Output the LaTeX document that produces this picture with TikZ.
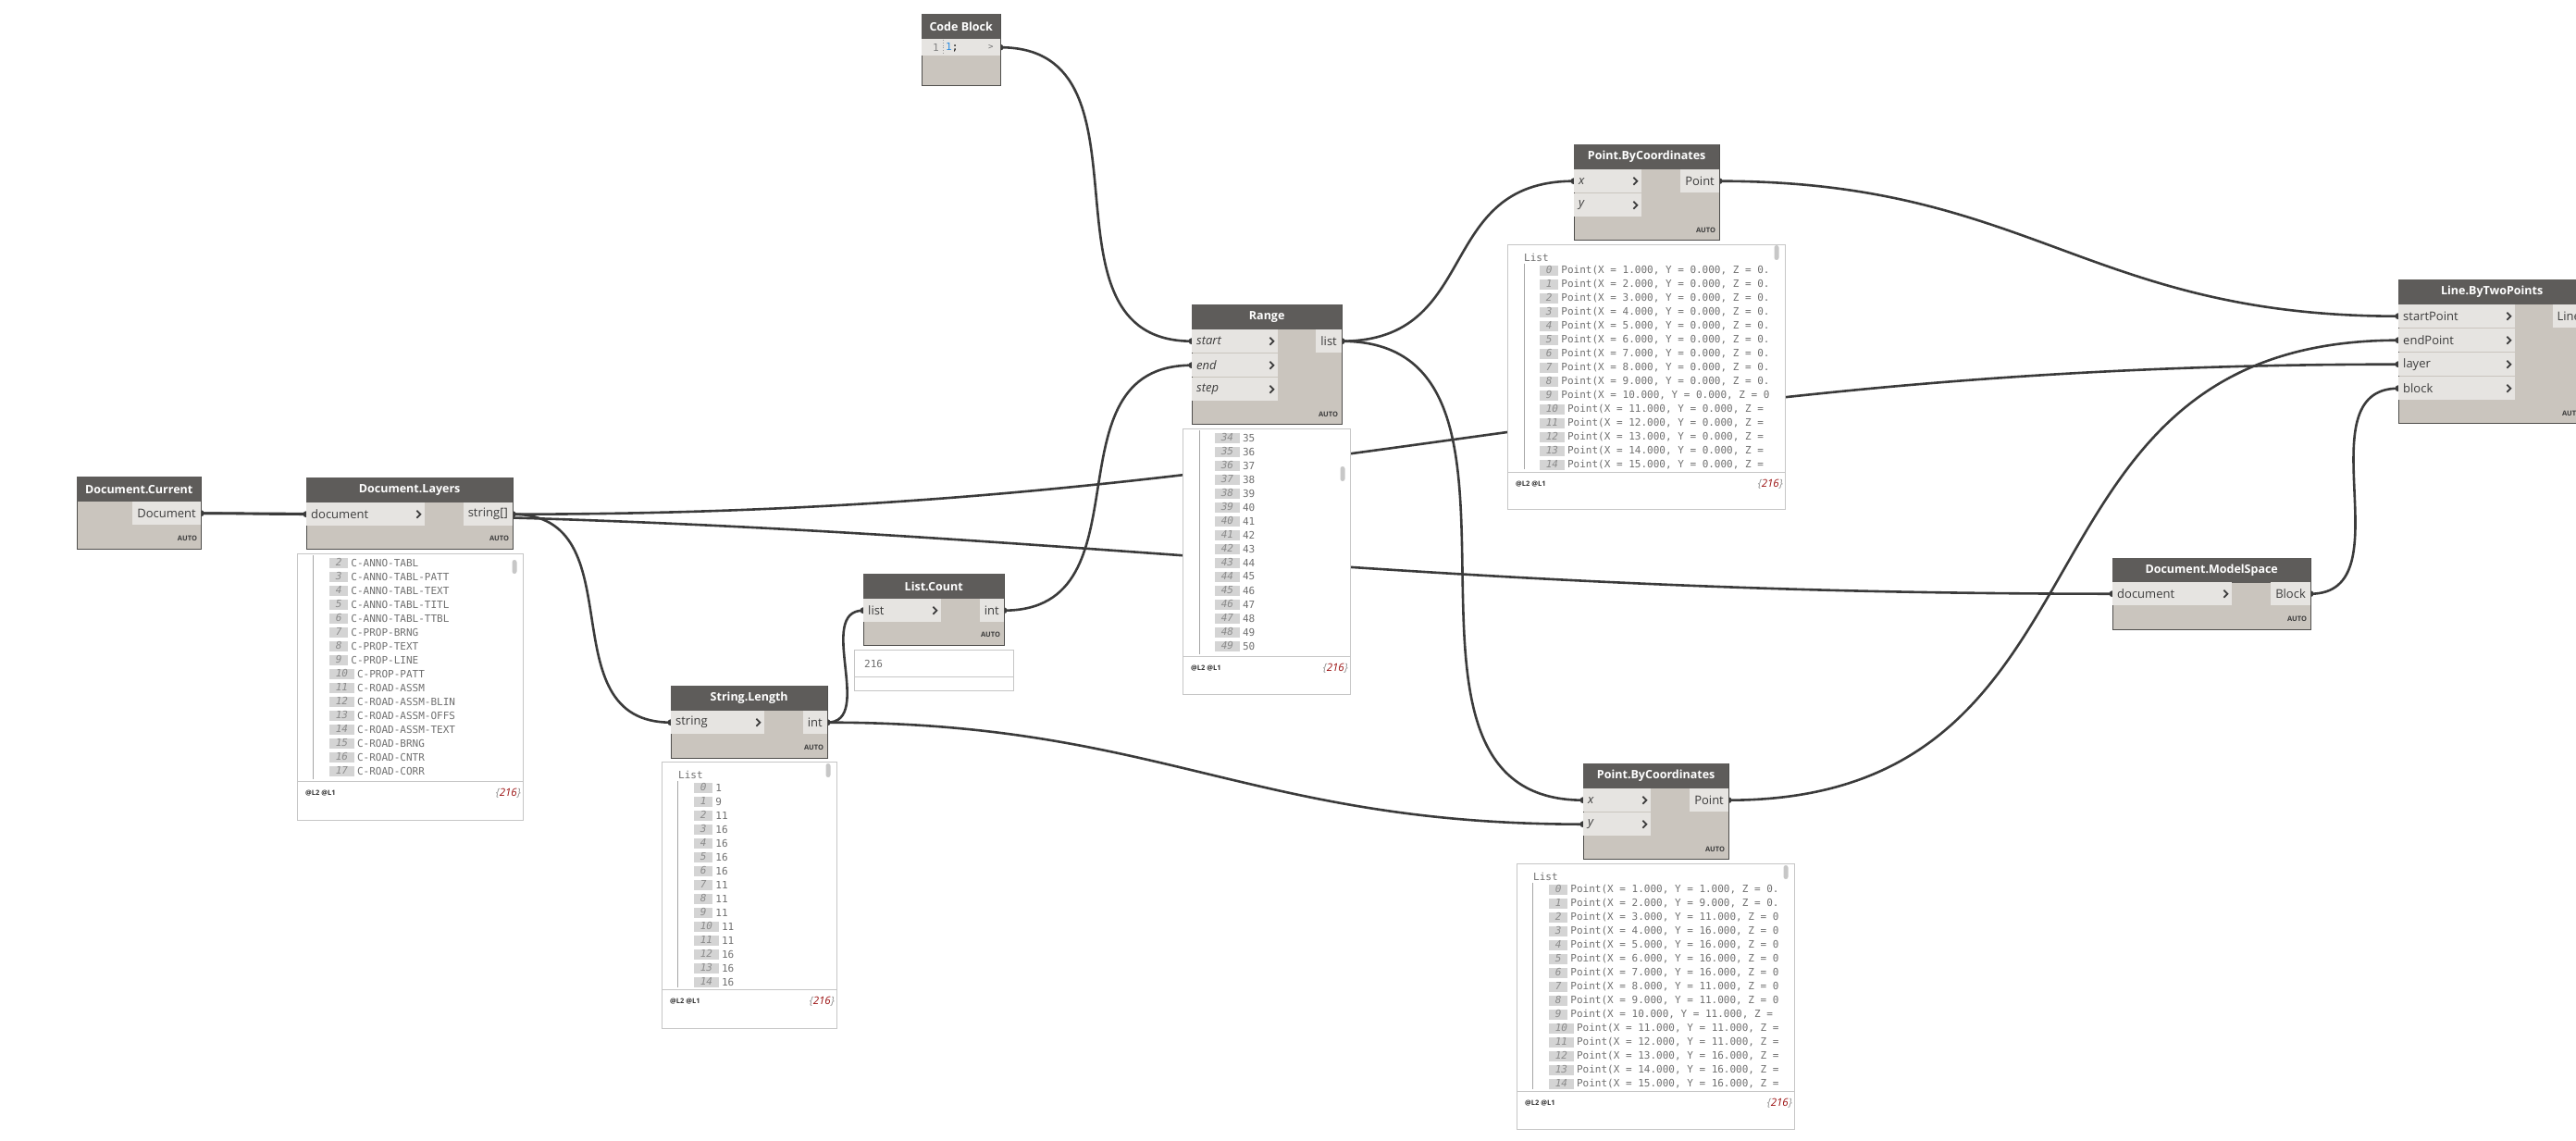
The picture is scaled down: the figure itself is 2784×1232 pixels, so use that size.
\documentclass[tikz,border=0pt]{standalone}
\usepackage{fontspec}
\setmainfont{Open Sans}
\newfontfamily\dynmono{DejaVu Sans Mono}
\usetikzlibrary{backgrounds,calc}

\definecolor{headcol}{HTML}{5E5C5A}
\definecolor{bodycol}{HTML}{CAC5BE}
\definecolor{portcol}{HTML}{E6E4E1}
\definecolor{edgecol}{HTML}{4F4E4C}
\definecolor{wirecol}{HTML}{3B3B3B}
\definecolor{labcol}{HTML}{3C3C3C}
\definecolor{pvedge}{HTML}{C6C6C6}
\definecolor{idxcol}{HTML}{D4D4D4}
\definecolor{valcol}{HTML}{707070}
\definecolor{cntred}{HTML}{9B1010}
\definecolor{codeblue}{HTML}{2A8BE0}

\tikzset{
  nbody/.style={draw=edgecol, line width=1.2pt, fill=bodycol, anchor=north west, inner sep=0pt},
  nhead/.style={fill=headcol, text=white, anchor=north west, inner sep=0pt, minimum height=27pt,
    font=\fontsize{12.5}{14}\selectfont\bfseries},
  iport/.style={fill=portcol, anchor=north west, inner sep=0pt, minimum height=25pt},
  oport/.style={fill=portcol, anchor=north east, inner xsep=5pt, inner ysep=0pt, minimum height=25pt,
    text=labcol, font=\fontsize{13}{15}\selectfont},
  plabel/.style={anchor=west, inner xsep=5pt, inner ysep=0pt, text=labcol, font=\fontsize{13}{15}\selectfont},
  chev/.style={draw=labcol, line width=1.8pt},
  autotag/.style={anchor=east, inner sep=0pt, text=labcol, font=\fontsize{7.5}{8}\selectfont\bfseries},
  wire/.style={draw=wirecol, line width=2.6pt},
  preview/.style={draw=pvedge, line width=1pt, fill=white, anchor=north west, inner sep=0pt},
  tree/.style={draw=black!35, line width=0.8pt},
  idx/.style={anchor=west, fill=idxcol, inner xsep=6.6pt, inner ysep=0pt, minimum height=11pt,
    text height=7.5pt, text depth=1.5pt, text=black!45, font=\dynmono\itshape\fontsize{11}{11}\selectfont},
  val/.style={anchor=west, inner xsep=3pt, inner ysep=0pt, text=valcol, font=\dynmono\fontsize{11}{11}\selectfont},
  lvl/.style={anchor=west, inner sep=0pt, text=black!80, font=\fontsize{7.5}{8}\selectfont\bfseries},
  cnt/.style={anchor=east, inner sep=0pt, text=black!45, font=\fontsize{11.5}{12}\selectfont\itshape},
  scroll/.style={fill=black!22, rounded corners=2.5pt},
}

% input port: name, x, y, width, label
\newcommand{\dinport}[5]{%
  \node[iport, minimum width=#4] (#1) at (#2,#3) {};
  \node[plabel] at (#1.west) {#5};
  \draw[chev] ([xshift=-9pt,yshift=4pt]#1.east) -- ++(4pt,-4pt) -- ++(-4pt,-4pt);}

% connector between an output and an input port
\newcommand{\wire}[2]{%
  \draw[wire] let \p1=(#1.east), \p2=(#2.west), \n1={0.4*abs(\x2-\x1)+0.3*abs(\y2-\y1)} in
    (\p1) .. controls +(\n1,0pt) and +(-\n1,0pt) .. (\p2);
  \fill[wirecol] (#1.east) circle (3.5pt) (#2.west) circle (3.5pt);}

% footer of a preview: left, right, divider
\newcommand{\pvfoot}[3]{%
  \draw[draw=pvedge, line width=1pt] (#1,#3) -- (#2,#3);
  \node[lvl] at (#1+9,#3+13) {@L2 @L1};
  \node[cnt] at (#2-2,#3+13) {\{\textcolor{cntred}{216}\}};}

\begin{document}
\begin{tikzpicture}[x=1pt, y=-1pt]
  \useasboundingbox (0,0) rectangle (2784,1232);

  % Document.Current
  \node[nbody, minimum width=134, minimum height=78] (cur) at (83,515) {};
  \node[nhead, minimum width=134] (cur-t) at (83,515) {Document.Current};
  \node[oport] (cur-doc) at (217,542) {Document};
  \node[autotag] at ([xshift=-5pt,yshift=12pt]cur.south east) {AUTO};

  % Document.Layers
  \node[nbody, minimum width=223, minimum height=77] (lay) at (331,516) {};
  \node[nhead, minimum width=223] (lay-t) at (331,516) {Document.Layers};
  \dinport{lay-doc}{331}{543}{128}{document}
  \node[oport] (lay-str) at (554,543) {string[]};
  \node[autotag] at ([xshift=-5pt,yshift=12pt]lay.south east) {AUTO};

  \node[preview, minimum width=244, minimum height=288] (lay-pv) at (321,598) {};
  \draw[tree] (338,600) -- (338,842);
  \foreach \i/\v [count=\k from 0] in {2/C-ANNO-TABL, 3/C-ANNO-TABL-PATT, 4/C-ANNO-TABL-TEXT,
      5/C-ANNO-TABL-TITL, 6/C-ANNO-TABL-TTBL, 7/C-PROP-BRNG, 8/C-PROP-TEXT, 9/C-PROP-LINE,
      10/C-PROP-PATT, 11/C-ROAD-ASSM, 12/C-ROAD-ASSM-BLIN, 13/C-ROAD-ASSM-OFFS,
      14/C-ROAD-ASSM-TEXT, 15/C-ROAD-BRNG, 16/C-ROAD-CNTR, 17/C-ROAD-CORR} {
    \node[idx] (lay-i) at (356,608+15*\k) {\i};
    \node[val] at (lay-i.east) {\v};
  }
  \fill[scroll] (553.5,605) rectangle (558.5,620);
  \pvfoot{321}{565}{844}

  % String.Length
  \node[nbody, minimum width=169, minimum height=78] (sl) at (725,741) {};
  \node[nhead, minimum width=169] (sl-t) at (725,741) {String.Length};
  \dinport{sl-str}{725}{768}{101}{string}
  \node[oport] (sl-int) at (894,768) {int};
  \node[autotag] at ([xshift=-5pt,yshift=12pt]sl.south east) {AUTO};

  \node[preview, minimum width=189, minimum height=288] (sl-pv) at (715,823) {};
  \node[val, inner xsep=0pt] (sl-list) at (733,837) {List};
  \draw[tree] (732,844) -- (732,1067);
  \foreach \v [count=\k from 0] in {1,9,11,16,16,16,16,11,11,11,11,11,16,16,16} {
    \node[idx] (sl-i) at (750,851+15*\k) {\k};
    \node[val] at (sl-i.east) {\v};
  }
  \fill[scroll] (892.5,825) rectangle (897.5,840);
  \pvfoot{715}{904}{1069}

  % List.Count
  \node[nbody, minimum width=152, minimum height=77] (lc) at (933,620) {};
  \node[nhead, minimum width=152] (lc-t) at (933,620) {List.Count};
  \dinport{lc-list}{933}{647}{84}{list}
  \node[oport] (lc-int) at (1085,647) {int};
  \node[autotag] at ([xshift=-5pt,yshift=12pt]lc.south east) {AUTO};

  \node[preview, minimum width=172, minimum height=44] (lc-pv) at (923,702) {};
  \node[val, inner xsep=0pt] (lc-val) at (934,717) {216};
  \draw[draw=pvedge, line width=1pt] (923,731) -- (1095,731);

  % Code Block
  \node[nbody, minimum width=85, minimum height=77] (cb) at (996,15) {};
  \node[nhead, minimum width=85] (cb-t) at (996,15) {Code Block};
  \node[iport, minimum width=65, minimum height=18] (cb-code) at (996,42) {};
  \node[oport, minimum width=20, minimum height=18, inner xsep=0pt, text=black!55,
    font=\dynmono\fontsize{9}{9}\selectfont] (cb-out) at (1081,42) {>};
  \node[val, inner xsep=0pt, text=black!50] (cb-ln) at (1008,51) {1};
  \draw[black!40, dotted, line width=0.8pt] (1019,43) -- (1019,59);
  \node[val, inner xsep=0pt, text=black] (cb-src) at (1022,51) {\textcolor{codeblue}{1};};

  % Range
  \node[nbody, minimum width=162, minimum height=129] (rg) at (1288,329) {};
  \node[nhead, minimum width=162] (rg-t) at (1288,329) {Range};
  \dinport{rg-start}{1288}{356}{93}{\itshape start}
  \dinport{rg-end}{1288}{382}{93}{\itshape end}
  \dinport{rg-step}{1288}{408}{93}{\itshape step}
  \node[oport] (rg-list) at (1450,356) {list};
  \node[autotag] at ([xshift=-5pt,yshift=11pt]rg.south east) {AUTO};

  \node[preview, minimum width=181, minimum height=287] (rg-pv) at (1278,463) {};
  \draw[tree] (1296,465) -- (1296,707);
  \foreach \i [count=\k from 0] in {34,...,49} {
    \pgfmathtruncatemacro{\vv}{\i+1}
    \node[idx] (rg-i) at (1313,473+15*\k) {\i};
    \node[val] at (rg-i.east) {\vv};
  }
  \fill[scroll] (1448.5,504) rectangle (1453.5,520);
  \pvfoot{1278}{1459}{709}

  % Point.ByCoordinates (top)
  \node[nbody, minimum width=157, minimum height=103] (pt) at (1701,156) {};
  \node[nhead, minimum width=157] (pt-t) at (1701,156) {Point.ByCoordinates};
  \dinport{pt-x}{1701}{183}{73}{\itshape x}
  \dinport{pt-y}{1701}{209}{73}{\itshape y}
  \node[oport] (pt-pt) at (1858,183) {Point};
  \node[autotag] at ([xshift=-5pt,yshift=11pt]pt.south east) {AUTO};

  \node[preview, minimum width=300, minimum height=286] (pt-pv) at (1629,264) {};
  \node[val, inner xsep=0pt] (pt-list) at (1647,278) {List};
  \draw[tree] (1647,285) -- (1647,507);
  \begin{scope}
    \clip (1629,264) rectangle (1912,510);
    \foreach \k in {0,...,14} {
      \pgfmathtruncatemacro{\xv}{\k+1}
      \node[idx] (pt-i) at (1664,292+15*\k) {\k};
      \node[val] at (pt-i.east) {Point(X = \xv.000, Y = 0.000, Z = 0.000)};
    }
  \end{scope}
  \fill[scroll] (1917.5,265) rectangle (1922.5,281);
  \pvfoot{1629}{1929}{510}

  % Point.ByCoordinates (bottom)
  \node[nbody, minimum width=157, minimum height=103] (pb) at (1711,825) {};
  \node[nhead, minimum width=157] (pb-t) at (1711,825) {Point.ByCoordinates};
  \dinport{pb-x}{1711}{852}{73}{\itshape x}
  \dinport{pb-y}{1711}{878}{73}{\itshape y}
  \node[oport] (pb-pt) at (1868,852) {Point};
  \node[autotag] at ([xshift=-5pt,yshift=11pt]pb.south east) {AUTO};

  \node[preview, minimum width=300, minimum height=287] (pb-pv) at (1639,933) {};
  \node[val, inner xsep=0pt] (pb-list) at (1657,947) {List};
  \draw[tree] (1656,954) -- (1656,1177);
  \begin{scope}
    \clip (1639,933) rectangle (1921,1179);
    \foreach \yv [count=\k from 0] in {1,9,11,16,16,16,16,11,11,11,11,11,16,16,16} {
      \pgfmathtruncatemacro{\xv}{\k+1}
      \node[idx] (pb-i) at (1674,961+15*\k) {\k};
      \node[val] at (pb-i.east) {Point(X = \xv.000, Y = \yv.000, Z = 0.000)};
    }
  \end{scope}
  \fill[scroll] (1927.5,935) rectangle (1932.5,950);
  \pvfoot{1639}{1939}{1179}

  % Document.ModelSpace
  \node[nbody, minimum width=214, minimum height=77] (ms) at (2283,603) {};
  \node[nhead, minimum width=214] (ms-t) at (2283,603) {Document.ModelSpace};
  \dinport{ms-doc}{2283}{629}{129}{document}
  \node[oport] (ms-blk) at (2497,629) {Block};
  \node[autotag] at ([xshift=-5pt,yshift=12pt]ms.south east) {AUTO};

  % Line.ByTwoPoints
  \node[nbody, minimum width=202, minimum height=155] (ln) at (2592,302) {};
  \node[nhead, minimum width=202] (ln-t) at (2592,302) {Line.ByTwoPoints};
  \dinport{ln-start}{2592}{329}{126}{startPoint}
  \dinport{ln-end}{2592}{355}{126}{endPoint}
  \dinport{ln-layer}{2592}{381}{126}{layer}
  \dinport{ln-block}{2592}{407}{126}{block}
  \node[oport] (ln-line) at (2794,329) {Line};
  \node[autotag] at ([xshift=-5pt,yshift=11pt]ln.south east) {AUTO};

  \begin{pgfonlayer}{background}
    \wire{cur-doc}{lay-doc}
    \wire{cur-doc}{ms-doc}
    \wire{lay-str}{sl-str}
    \wire{lay-str}{ln-layer}
    \wire{sl-int}{lc-list}
    \wire{sl-int}{pb-y}
    \wire{lc-int}{rg-end}
    \wire{cb-out}{rg-start}
    \wire{rg-list}{pt-x}
    \wire{rg-list}{pb-x}
    \wire{pt-pt}{ln-start}
    \wire{pb-pt}{ln-end}
    \wire{ms-blk}{ln-block}
  \end{pgfonlayer}
\end{tikzpicture}
\end{document}
